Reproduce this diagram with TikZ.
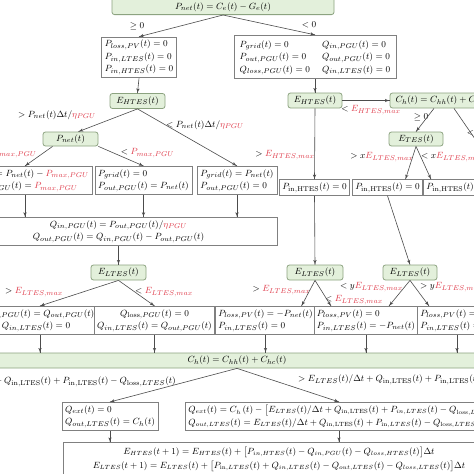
\documentclass[tikz,border=0pt]{standalone}
\usepackage{amsmath}
\usepackage{amssymb}
\usepackage{tikz}
\usetikzlibrary{arrows}
\usetikzlibrary{decorations.markings}
\usetikzlibrary{positioning}
\tikzset{->/.style = {decoration={markings,
                                  mark=at position 1 with {\arrow[scale=1]{latex'}}},
                      postaction={decorate}}}
\definecolor{mred}{rgb}{0.88, 0.24, 0.3}
\definecolor{mgreen}{rgb}{0.89, 0.94, 0.86}
\definecolor{mgreenline}{rgb}{0.55, 0.64, 0.5}
\definecolor{mgray}{rgb}{0.5, 0.5, 0.5}
\definecolor{marrow}{rgb}{0.3, 0.3, 0.3}
\tikzset{greenbox/.style = {draw=mgreenline, fill=mgreen, rounded corners=2.5pt, line width=0.8pt,
                            inner sep=2pt, font=\fontsize{9.5}{12.5}\selectfont},
         whitebox/.style = {draw=mgray, fill=white, line width=0.8pt, inner sep=3pt,
                            font=\fontsize{9.5}{12.5}\selectfont},
         cond/.style = {inner sep=1pt, font=\fontsize{9.5}{12.5}\selectfont},
         flow/.style = {->, draw=marrow, line width=0.6pt}}
\newcommand{\cred}[1]{\textcolor{mred}{#1}}

\begin{document}
\begin{tikzpicture}[x=1pt, y=-1pt]
    \useasboundingbox (0, 0) rectangle (474, 474);
    \clip (0, 0) rectangle (474, 474);
    \fill [white] (0, 0) rectangle (474, 474);

    \node [greenbox, anchor=south, minimum width=222pt, text height=13pt, text depth=3.5pt] (pnet) at (223, 15) {$P_{net}(t) = C_e(t) - G_e(t)$};
    \node [whitebox, align=left, minimum width=72pt, minimum height=39pt] (initA) at (139, 57.5) {$P_{loss,PV}(t) = 0$\\ $P_{in,LTES}(t) = 0$\\ $P_{in,HTES}(t) = 0$};
    \node [whitebox, minimum width=162pt, minimum height=40pt] (initB) at (315, 57) {\begin{tabular}{@{}l@{\hspace{12pt}}l@{}}
        $P_{grid}(t) = 0$ & $Q_{in,PGU}(t) = 0$\\
        $P_{out,PGU}(t) = 0$ & $Q_{out,PGU}(t) = 0$\\
        $Q_{loss,PGU}(t) = 0$ & $Q_{in,LTES}(t) = 0$
      \end{tabular}};
    \node [cond] (geqA) at (137, 26) {$\geq 0$};
    \node [cond] (ltA) at (309, 25) {$< 0$};
    \draw [flow] (pnet.south) -- (initA.north);
    \draw [flow] (pnet.south) -- (initB.north);

    \node [greenbox, minimum width=55pt, minimum height=15pt] (ehtesA) at (137.5, 101) {$E_{HTES}(t)$};
    \node [greenbox, minimum width=54pt, minimum height=15pt] (ehtesB) at (315, 100.5) {$E_{HTES}(t)$};
    \node [greenbox, minimum width=110pt, minimum height=15pt] (chA) at (445, 100.5) {$C_h(t) = C_{hh}(t) + C_{hc}(t)$};
    \draw [flow] (initA.south) -- (ehtesA.north);
    \draw [flow] (initB.south) -- (ehtesB.north);
    \draw [flow] (ehtesB.east) -- (chA.west);
    \node [cond] (ltEhtes) at (371, 110) {$< \cred{E_{HTES,max}}$};

    \node [greenbox, minimum width=55pt, minimum height=14pt] (pnetB) at (70.5, 139) {$P_{net}(t)$};
    \node [cond] (gtPnet) at (57, 115) {$> P_{net}(t)\Delta t/\cred{\eta_{PGU}}$};
    \node [cond] (ltPnet) at (205, 125) {$< P_{net}(t)\Delta t/\cred{\eta_{PGU}}$};
    \node [cond] (gtPmax) at (10, 153) {$> \cred{P_{max,PGU}}$};
    \node [cond] (ltPmax) at (147.5, 153) {$< \cred{P_{max,PGU}}$};

    \node [whitebox, align=center, minimum width=134pt, minimum height=27pt] (gridA) at (25, 180.5) {$P_{grid}(t) = P_{net}(t) - \cred{P_{max,PGU}}$\\ $P_{out,PGU}(t) = \cred{P_{max,PGU}}$};
    \node [whitebox, align=left, minimum width=97pt, minimum height=27pt] (gridB) at (143.5, 180.5) {$P_{grid}(t) = 0$\\ $P_{out,PGU}(t) = P_{net}(t)$};
    \node [whitebox, align=left, minimum width=80pt, minimum height=27pt] (gridC) at (237, 180.5) {$P_{grid}(t) = P_{net}(t)$\\ $P_{out,PGU}(t) = 0$};
    \draw [flow] (ehtesA.south) -- ([xshift=8pt]pnetB.north);
    \draw [flow] (ehtesA.south) -- (gridC.north);
    \draw [flow] ([xshift=10pt]pnetB.south west) -- (gridA.north);
    \draw [flow] (pnetB.south east) -- (gridB.north);

    \node [cond] (gtEhtes) at (285, 155) {$> \cred{E_{HTES,max}}$};
    \node [greenbox, minimum width=54pt, minimum height=14pt] (etes) at (416, 139) {$E_{TES}(t)$};
    \node [cond] (geqB) at (421, 117) {$\geq 0$};
    \node [cond] (ltB) at (474, 133) {$< 0$};
    \coordinate (offC) at (484, 152);
    \draw [flow] ([xshift=-11pt]chA.south) -- (etes.north);
    \draw [marrow, line width=0.6pt] ([xshift=9pt]chA.south) -- (offC);
    \node [cond] (gtx) at (382, 157) {$> x\cred{E_{LTES,max}}$};
    \node [cond, anchor=west] (ltx) at (420, 157) {$< x\cred{E_{LTES,max}}$};

    \node [whitebox, minimum width=67pt, minimum height=15pt] (hinA) at (314.5, 187.5) {$P_{\mathrm{in,HTES}}(t) = 0$};
    \node [whitebox, minimum width=69pt, minimum height=15pt] (hinB) at (387.5, 187.5) {$P_{\mathrm{in,HTES}}(t) = 0$};
    \node [whitebox, anchor=west, minimum height=15pt] (hinC) at (423, 187.5) {$P_{\mathrm{in,HTES}}(t) = 0$};
    \draw [flow] (ehtesB.south) -- (hinA.north);
    \draw [flow] (etes.south) -- ([xshift=18pt]hinB.north);
    \draw [flow] (etes.south) -- ([xshift=8pt]hinC.north west);

    \node [whitebox, align=center, minimum width=317pt, minimum height=27pt] (pipeQ) at (118.5, 231.5) {$Q_{in,PGU}(t) = P_{out,PGU}(t)/\cred{\eta_{PGU}}$\\ $Q_{out,PGU}(t) = Q_{in,PGU}(t) - P_{out,PGU}(t)$};
    \draw [flow] (gridA.south) -- (gridA.south |- pipeQ.north);
    \draw [flow] (gridB.south) -- (gridB.south |- pipeQ.north);
    \draw [flow] (gridC.south) -- (gridC.south |- pipeQ.north);

    \node [greenbox, minimum width=55pt, minimum height=15pt] (eltesA) at (118.5, 272.5) {$E_{LTES}(t)$};
    \node [greenbox, minimum width=56pt, minimum height=15pt] (eltesB) at (315, 272.5) {$E_{LTES}(t)$};
    \node [greenbox, minimum width=54pt, minimum height=15pt] (eltesC) at (410, 272.5) {$E_{LTES}(t)$};
    \draw [flow] (pipeQ.south) -- (eltesA.north);
    \draw [flow] (hinA.south) -- (eltesB.north);
    \draw [flow] (hinB.south) -- (eltesC.north);

    \node [cond] (gtEltesA) at (34, 292) {$> \cred{E_{LTES,max}}$};
    \node [cond] (ltEltesA) at (164, 292) {$< \cred{E_{LTES,max}}$};
    \node [cond] (gtEltesB) at (281.5, 290) {$> \cred{E_{LTES,max}}$};
    \node [cond] (ltEltesB) at (354, 300) {$< \cred{E_{LTES,max}}$};
    \node [cond] (lty) at (371.5, 287) {$< y\cred{E_{LTES,max}}$};
    \node [cond, anchor=west] (gty) at (419, 287) {$> y\cred{E_{LTES,max}}$};

    \node [whitebox, align=center, minimum width=124pt, minimum height=27pt] (lossA) at (36, 320.5) {$Q_{loss,PGU}(t) = Q_{out,PGU}(t)$\\ $Q_{in,LTES}(t) = 0$};
    \node [whitebox, align=center, minimum width=109pt, minimum height=27pt] (lossB) at (154.5, 320.5) {$Q_{\mathrm{loss},PGU}(t) = 0$\\ $Q_{in,LTES}(t) = Q_{out,PGU}(t)$};
    \node [whitebox, align=left, minimum width=97pt, minimum height=27pt] (pvA) at (265.5, 320.5) {$P_{loss,PV}(t) = -P_{net}(t)$\\ $P_{in,LTES}(t) = 0$};
    \node [whitebox, align=left, minimum width=100pt, minimum height=27pt] (pvB) at (366, 320.5) {$P_{loss,PV}(t) = 0$\\ $P_{in,LTES}(t) = -P_{net}(t)$};
    \node [whitebox, align=left, anchor=west, minimum height=27pt] (pvC) at (417, 320.5) {$P_{loss,PV}(t) = 0$\\ $P_{in,LTES}(t) = 0$};
    \draw [flow] (eltesA.south) -- ([xshift=4pt]lossA.north);
    \draw [flow] (eltesA.south) -- (lossB.north);
    \draw [flow] (eltesB.south) -- ([xshift=36pt]pvA.north);
    \draw [flow] (eltesB.south) -- ([xshift=-35pt]pvB.north);
    \draw [flow] (eltesC.south) -- ([xshift=23pt]pvB.north);
    \draw [flow] (eltesC.south) -- ([xshift=12pt]pvC.north west);

    \node [greenbox, minimum width=490pt, minimum height=15pt] (chbar) at (237, 360.5) {$C_h(t) = C_{hh}(t) + C_{hc}(t)$};
    \draw [flow] ([xshift=4pt]lossA.south) -- ([xshift=4pt]lossA.south |- chbar.north);
    \draw [flow] (lossB.south) -- (lossB.south |- chbar.north);
    \draw [flow] (pvA.south) -- (pvA.south |- chbar.north);
    \draw [flow] (pvB.south) -- (pvB.south |- chbar.north);
    \draw [flow] ([xshift=40pt]pvC.south west) -- ([xshift=40pt]pvC.south west |- chbar.north);

    \node [cond, anchor=east] (leqC) at (177, 382) {$\leq E_{LTES}(t)/\Delta t + Q_{\mathrm{in,LTES}}(t) + P_{\mathrm{in,LTES}}(t) - Q_{\mathrm{loss},LTES}(t)$};
    \node [cond, anchor=west] (gtC) at (297, 380) {$> E_{LTES}(t)/\Delta t + Q_{\mathrm{in,LTES}}(t) + P_{\mathrm{in,LTES}}(t) - Q_{\mathrm{loss},LTES}(t)$};

    \node [whitebox, align=left, minimum width=94pt, minimum height=27pt] (extA) at (110, 416.5) {$Q_{ext}(t) = 0$\\ $Q_{out,LTES}(t) = C_h(t)$};
    \node [whitebox, align=left, anchor=west, minimum height=28pt, font=\fontsize{9}{12.5}\selectfont] (extB) at (185, 416.5) {$Q_{ext}(t) = C_h\,(t) - \big[E_{LTES}(t)/\Delta t + Q_{\mathrm{in,LTES}}(t) + P_{in,LTES}(t) - Q_{\mathrm{loss},LTES}(t)\big]$\\ $Q_{out,LTES}(t) = E_{LTES}(t)/\Delta t + Q_{\mathrm{in,LTES}}(t) + P_{\mathrm{in},LTES}(t) - Q_{\mathrm{loss},LTES}(t)$};
    \draw [flow] (chbar.south) -- (extA.north);
    \draw [flow] (chbar.south) -- ([xshift=154pt]extB.north west);

    \node [whitebox, align=center, minimum width=432pt, minimum height=34pt, font=\fontsize{8.8}{13}\selectfont] (final) at (279, 459.5) {$E_{HTES}(t+1) = E_{HTES}(t) + \big[P_{in,HTES}(t) - Q_{in,PGU}(t) - Q_{loss,HTES}(t)\big]\Delta t$\\[1pt] $E_{LTES}(t+1) = E_{LTES}(t) + \big[P_{\mathrm{in},LTES}(t) + Q_{in,LTES}(t) - Q_{out,LTES}(t) - Q_{loss,LTES}(t)\big]\Delta t$};
    \draw [flow] (extA.south) -- (extA.south |- final.north);
    \draw [flow] ([xshift=154pt]extB.south west) -- ([xshift=154pt]extB.south west |- final.north);
\end{tikzpicture}
\end{document}
